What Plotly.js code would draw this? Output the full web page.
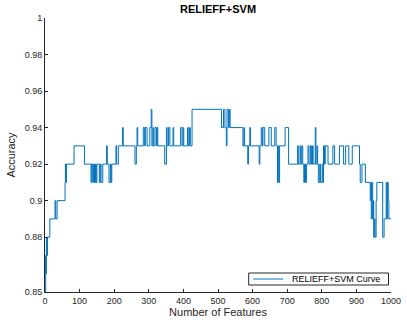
<!DOCTYPE html>
<html>
<head>
<meta charset="utf-8">
<script src="https://cdn.plot.ly/plotly-3.0.1.min.js"></script>
<style>html,body{margin:0;padding:0;background:#fff;}#chart{width:407px;height:327px;}</style>
</head>
<body>
<div id="chart"></div>
<script>
// Feature counts where the accuracy changes (step breakpoints)
var featureBreaks = [1,2,3,4,6,7,14,29,31,35,58,59,60,62,84,114,133,135,138,140,143,146,148,150,157,160,162,167,178,180,185,189,191,193,205,207,212,224,226,260,264,266,268,284,288,290,295,303,307,309,312,314,318,322,324,326,346,351,353,357,361,370,372,392,396,399,401,412,414,418,420,425,510,516,520,524,526,530,533,535,572,575,577,586,588,592,594,619,621,625,628,630,635,647,654,664,668,672,674,676,678,694,704,730,732,737,739,742,745,748,750,753,756,760,763,767,770,773,775,781,783,786,788,790,794,796,801,803,805,808,810,818,832,837,851,863,869,878,888,909,911,916,926,940,942,943,945,947,949,950,952,954,957,959,976,980,986,988,990,992,994,1000];
// Accuracy at each breakpoint
var accuracyLevels = [0.85,0.87,0.86,0.88,0.87,0.88,0.89,0.90,0.89,0.90,0.91,0.92,0.91,0.92,0.93,0.92,0.91,0.92,0.91,0.92,0.91,0.92,0.91,0.92,0.91,0.92,0.91,0.92,0.93,0.92,0.91,0.92,0.91,0.92,0.93,0.92,0.93,0.94,0.93,0.92,0.93,0.94,0.93,0.94,0.93,0.94,0.93,0.94,0.95,0.93,0.94,0.93,0.94,0.93,0.94,0.93,0.92,0.94,0.93,0.94,0.93,0.94,0.93,0.94,0.93,0.94,0.93,0.94,0.93,0.94,0.93,0.95,0.94,0.95,0.94,0.93,0.95,0.94,0.95,0.94,0.93,0.94,0.93,0.92,0.93,0.94,0.93,0.92,0.93,0.94,0.93,0.94,0.93,0.94,0.93,0.94,0.93,0.91,0.93,0.91,0.93,0.94,0.92,0.93,0.92,0.93,0.92,0.93,0.92,0.91,0.92,0.91,0.92,0.93,0.92,0.93,0.92,0.93,0.92,0.94,0.92,0.93,0.92,0.91,0.92,0.91,0.92,0.91,0.93,0.92,0.93,0.92,0.93,0.92,0.93,0.92,0.93,0.92,0.93,0.92,0.91,0.92,0.91,0.90,0.91,0.89,0.91,0.89,0.90,0.88,0.89,0.88,0.90,0.91,0.88,0.89,0.91,0.89,0.91,0.90,0.89,0.89];

var xTickVals = [0,100,200,300,400,500,600,700,800,900,1000];
var xTickText = ['0','100','200','300','400','500','600','700','800','900','1000'];
var yTickVals = [0.85,0.88,0.90,0.92,0.94,0.96,0.98,1.00];
var yTickText = ['0.85','0.88','0.9','0.92','0.94','0.96','0.98','1'];
var seriesName = 'RELIEFF+SVM Curve';

var axisColor = '#262626';
var lineColor = '#0072BD';
var fontFam = 'Arial, "Liberation Sans", Helvetica, sans-serif';

var trace = {
  x: featureBreaks,
  y: accuracyLevels,
  type: 'scatter',
  mode: 'lines',
  name: seriesName,
  showlegend: false,
  line: {color: lineColor, width: 1, shape: 'hv'}
};

// Compact MATLAB-style legend box (paper coordinates)
var legBox = {x0: 0.5887, x1: 0.9928, y0: 0.0255, y1: 0.0693};
var legY = (legBox.y0 + legBox.y1) / 2;

var layout = {
  width: 407, height: 327,
  margin: {l: 45, r: 15.5, t: 18, b: 35, pad: 0},
  paper_bgcolor: '#ffffff', plot_bgcolor: '#ffffff',
  font: {family: fontFam, size: 9, color: axisColor},
  title: {
    text: '<b>RELIEFF+SVM</b>',
    font: {family: fontFam, size: 11, color: '#000000'},
    xref: 'paper', x: 0.5, xanchor: 'center',
    yref: 'container', y: 0.972, yanchor: 'middle'
  },
  xaxis: {
    range: [0, 1000],
    tickmode: 'array', tickvals: xTickVals, ticktext: xTickText,
    ticks: 'inside', ticklen: 3, tickwidth: 1, tickcolor: axisColor,
    showline: true, linecolor: axisColor, linewidth: 1, mirror: false,
    showgrid: false, zeroline: false,
    tickfont: {family: fontFam, size: 9, color: axisColor},
    title: {text: 'Number of Features', font: {family: fontFam, size: 11, color: axisColor}, standoff: 2}
  },
  yaxis: {
    range: [0.85, 1],
    tickmode: 'array', tickvals: yTickVals, ticktext: yTickText,
    ticks: 'inside', ticklen: 3, tickwidth: 1, tickcolor: axisColor,
    showline: true, linecolor: axisColor, linewidth: 1, mirror: false,
    showgrid: false, zeroline: false,
    tickfont: {family: fontFam, size: 9, color: axisColor},
    title: {text: 'Accuracy', font: {family: fontFam, size: 11, color: axisColor}, standoff: 6}
  },
  showlegend: false,
  shapes: [
    {type: 'rect', xref: 'paper', yref: 'paper', x0: legBox.x0, x1: legBox.x1, y0: legBox.y0, y1: legBox.y1,
     line: {color: axisColor, width: 1}, fillcolor: '#ffffff', layer: 'above'},
    {type: 'line', xref: 'paper', yref: 'paper', x0: 0.6017, x1: 0.6883, y0: legY, y1: legY,
     line: {color: lineColor, width: 1}, layer: 'above'}
  ],
  annotations: [
    {text: seriesName, xref: 'paper', yref: 'paper', x: 0.708, y: legY, xanchor: 'left', yanchor: 'middle',
     showarrow: false, font: {family: fontFam, size: 9, color: '#000000'}}
  ]
};

Plotly.newPlot('chart', [trace], layout, {displayModeBar: false, staticPlot: true});
</script>
</body>
</html>
